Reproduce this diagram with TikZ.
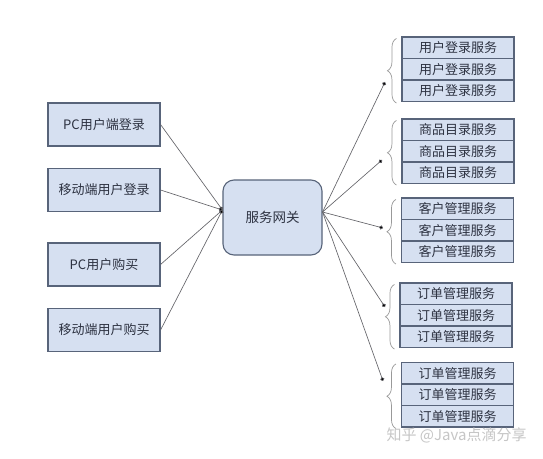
\documentclass[tikz,border=0pt]{standalone}
\usepackage{fontspec}
\setmainfont{Noto Sans CJK SC}
\usetikzlibrary{arrows.meta,decorations.pathreplacing}
\definecolor{boxfill}{RGB}{214,224,241}
\definecolor{boxline}{RGB}{88,100,122}
\definecolor{txt}{RGB}{45,50,65}
\definecolor{conn}{RGB}{100,100,105}
\begin{document}
\begin{tikzpicture}[x=1pt,y=-1pt,
  leftbox/.style={draw=boxline,line width=1.1pt,fill=boxfill,minimum width=112pt,minimum height=43pt,inner sep=0pt,text=txt,font=\fontsize{13}{15}\selectfont},
  gwbox/.style={draw=boxline,line width=1.1pt,fill=boxfill,rounded corners=11pt,minimum width=99pt,minimum height=75pt,inner sep=0pt,text=txt,font=\fontsize{13.5}{15}\selectfont},
  svc/.style={draw=boxline,line width=1.1pt,fill=boxfill,minimum width=112pt,minimum height=21.5pt,inner sep=0pt,text=txt,font=\fontsize{13}{15}\selectfont},
  conline/.style={draw=conn,line width=0.65pt,-{Circle[length=4pt,fill=black]}},
  bracestyle/.style={draw=gray!80,line width=0.7pt,decorate,decoration={brace,amplitude=9pt}}
]
\useasboundingbox (0,0) rectangle (543,458);
\fill[white] (0,0) rectangle (543,458);

% left boxes
\node[leftbox] (l1) at (104,124.5) {PC用户端登录};
\node[leftbox] (l2) at (104,190) {移动端用户登录};
\node[leftbox] (l3) at (104,264.5) {PC用户购买};
\node[leftbox] (l4) at (104,330) {移动端用户购买};

% gateway
\node[gwbox] (gw) at (272.5,217.5) {服务网关};
\coordinate (gwL) at ([yshift=7.5pt]gw.west);
\coordinate (gwR) at ([yshift=5.5pt]gw.east);

% service groups
\foreach \g/\top/\xc/\name in {1/37/458/用户登录服务, 2/119/458/商品目录服务, 3/198/457.5/客户管理服务, 4/283/456/订单管理服务, 5/362.5/457.5/订单管理服务}{
  \node[svc] (g\g a) at (\xc,\top+10.75) {\name};
  \node[svc] (g\g b) at (\xc,\top+32.25) {\name};
  \node[svc] (g\g c) at (\xc,\top+53.75) {\name};
  \draw[bracestyle] ([xshift=-5pt,yshift=-1pt]g\g c.south west) -- ([xshift=-5pt,yshift=-2pt]g\g a.north west);
}

% brace dots
\coordinate (d1) at (385,82);
\coordinate (d2) at (382,160);
\coordinate (d3) at (383,228);
\coordinate (d4) at (385,307);
\coordinate (d5) at (383,381);

% connectors
\foreach \i in {1,2,3,4}{
  \draw[conline] (l\i.east) -- (gwL);
}
\foreach \i in {1,2,3,4,5}{
  \draw[conline] (gwR) -- (d\i);
}

% watermark
\node[text=gray!45,font=\fontsize{15}{17}\selectfont,anchor=west] (wm) at (383,435) {知乎 @Java点滴分享};
\end{tikzpicture}
\end{document}
